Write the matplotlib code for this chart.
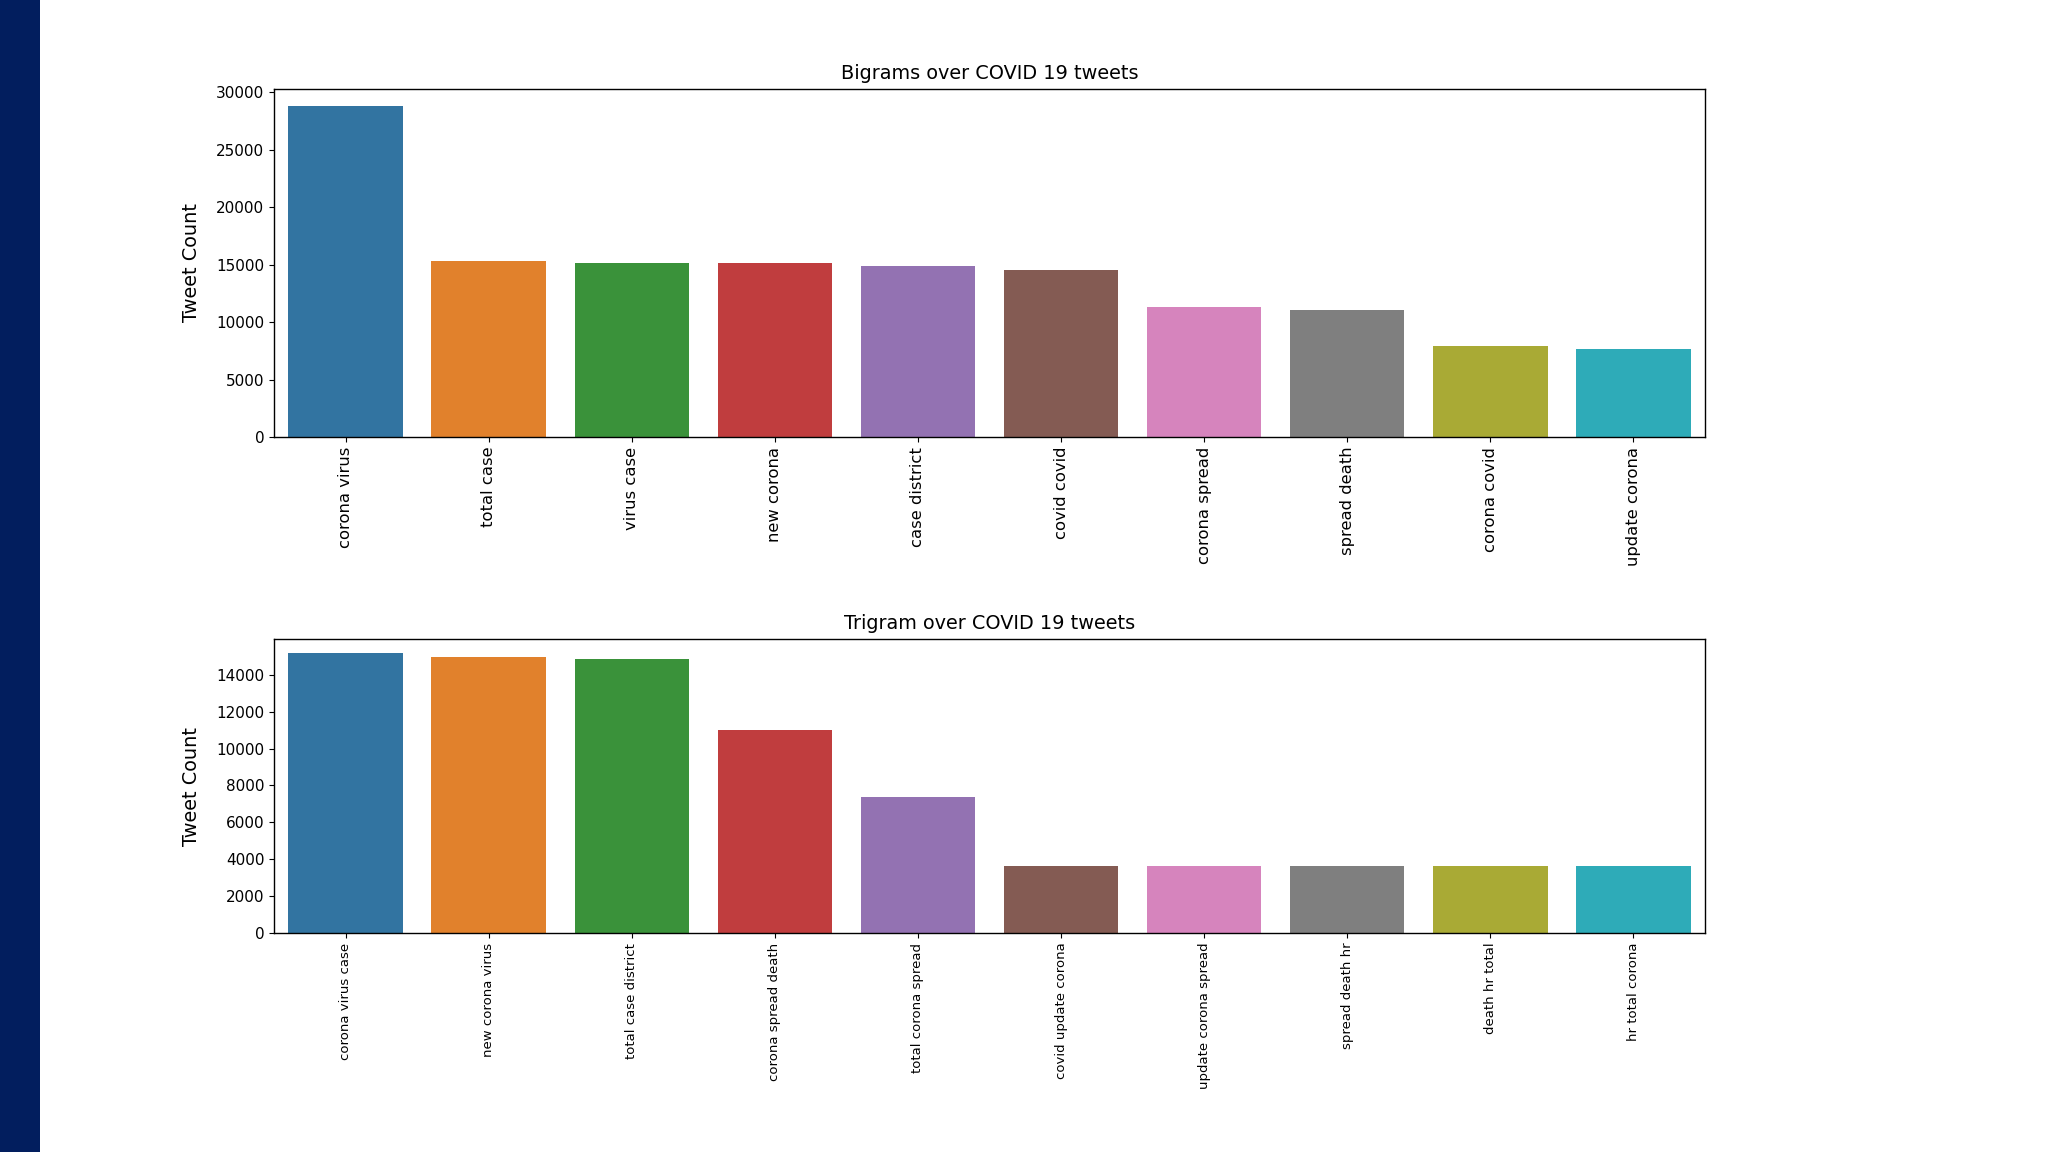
import matplotlib
matplotlib.use("Agg")
import matplotlib.pyplot as plt
from matplotlib.patches import Rectangle
import seaborn as sns

bigram_labels = ["corona virus", "total case", "virus case", "new corona", "case district",
                 "covid covid", "corona spread", "spread death", "corona covid", "update corona"]
bigram_counts = [28820, 15300, 15170, 15150, 14890, 14480, 11270, 11010, 7940, 7690]

trigram_labels = ["corona virus case", "new corona virus", "total case district", "corona spread death",
                  "total corona spread", "covid update corona", "update corona spread", "spread death hr",
                  "death hr total", "hr total corona"]
trigram_counts = [15180, 14950, 14880, 11000, 7350, 3650, 3650, 3650, 3650, 3650]

colors = sns.color_palette("tab10", 10, desat=0.75)

fig = plt.figure(figsize=(20.48, 11.52), dpi=100)
fig.patch.set_facecolor("white")
fig.add_artist(Rectangle((0, 0), 40 / 2048, 1, transform=fig.transFigure,
                         facecolor="#021e5e", edgecolor="none"))

left = 274 / 2048
width = (1705 - 274) / 2048
ax1 = fig.add_axes([left, 1 - 437 / 1152, width, (437 - 89) / 1152])
ax2 = fig.add_axes([left, 1 - 933 / 1152, width, (933 - 639) / 1152])

def draw(ax, labels, counts, title, xfs):
    x = list(range(len(labels)))
    ax.bar(x, counts, width=0.8, color=colors)
    ax.set_xlim(-0.5, len(labels) - 0.5)
    ax.set_ylim(0, max(counts) * 1.05)
    ax.set_xticks(x)
    ax.set_xticklabels(labels, rotation=90, fontsize=xfs)
    ax.tick_params(axis="y", labelsize=11)
    ax.set_title(title, fontsize=13.9, pad=7)
    ax.set_ylabel("Tweet Count", fontsize=13.9)
    ax.yaxis.set_label_coords(-0.051, 0.5)
    for s in ax.spines.values():
        s.set_linewidth(1.0)

draw(ax1, bigram_labels, bigram_counts, "Bigrams over COVID 19 tweets", 11.8)
ax1.set_yticks([0, 5000, 10000, 15000, 20000, 25000, 30000])
draw(ax2, trigram_labels, trigram_counts, "Trigram over COVID 19 tweets", 9.5)
ax2.set_yticks([0, 2000, 4000, 6000, 8000, 10000, 12000, 14000])

fig.savefig("out.png", dpi=100)
